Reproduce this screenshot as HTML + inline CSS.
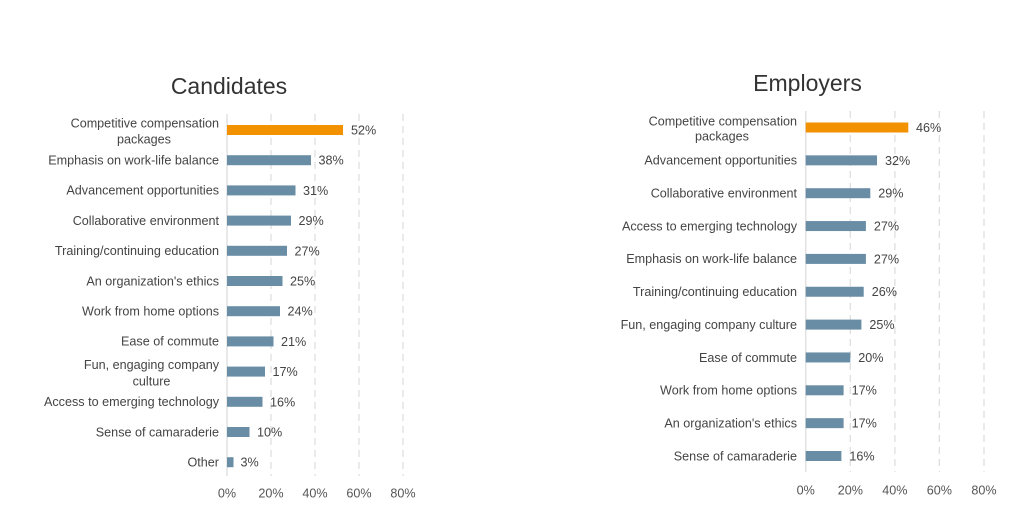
<!DOCTYPE html>
<html>
<head>
<meta charset="utf-8">
<style>
html,body{margin:0;padding:0;background:#fff;}
svg{display:block;}
text{font-family:"Liberation Sans",sans-serif;fill:#444;}
.lbl{font-size:12.6px;text-anchor:end;}
.lblc{font-size:12.6px;text-anchor:middle;}
.val{font-size:12.6px;text-anchor:start;}
.tick{font-size:12.6px;text-anchor:middle;fill:#555;}
.title{font-size:23px;text-anchor:middle;fill:#333;}
.grid{stroke:#dedede;stroke-width:1.3;stroke-dasharray:7 5;}
.axis{stroke:#e2e2e2;stroke-width:1.5;}
</style>
</head>
<body>
<svg width="1024" height="520" viewBox="0 0 1024 520" xmlns="http://www.w3.org/2000/svg">
<rect width="1024" height="520" fill="#fff"/>

<!-- LEFT CHART: Candidates -->
<text class="title" x="229" y="94">Candidates</text>
<line class="grid" x1="271" y1="114" x2="271" y2="476"/>
<line class="grid" x1="315" y1="114" x2="315" y2="476"/>
<line class="grid" x1="359" y1="114" x2="359" y2="476"/>
<line class="grid" x1="403" y1="114" x2="403" y2="476"/>
<line class="axis" x1="227" y1="114" x2="227" y2="476"/>

<rect x="227" y="125" width="116" height="10" fill="#F39200"/>
<rect x="227" y="155.2" width="84" height="10" fill="#6A8DA6"/>
<rect x="227" y="185.4" width="68.5" height="10" fill="#6A8DA6"/>
<rect x="227" y="215.6" width="64" height="10" fill="#6A8DA6"/>
<rect x="227" y="245.8" width="60" height="10" fill="#6A8DA6"/>
<rect x="227" y="276" width="55.5" height="10" fill="#6A8DA6"/>
<rect x="227" y="306.2" width="53" height="10" fill="#6A8DA6"/>
<rect x="227" y="336.4" width="46.5" height="10" fill="#6A8DA6"/>
<rect x="227" y="366.6" width="38" height="10" fill="#6A8DA6"/>
<rect x="227" y="396.8" width="35.5" height="10" fill="#6A8DA6"/>
<rect x="227" y="427" width="22.5" height="10" fill="#6A8DA6"/>
<rect x="227" y="457.2" width="6.5" height="10" fill="#6A8DA6"/>

<text class="lbl" x="219" y="127.5">Competitive compensation</text>
<text class="lblc" x="144" y="143.5">packages</text>
<text class="lbl" x="219" y="164.5">Emphasis on work-life balance</text>
<text class="lbl" x="219" y="194.7">Advancement opportunities</text>
<text class="lbl" x="219" y="224.9">Collaborative environment</text>
<text class="lbl" x="219" y="255.1">Training/continuing education</text>
<text class="lbl" x="219" y="285.3">An organization's ethics</text>
<text class="lbl" x="219" y="315.5">Work from home options</text>
<text class="lbl" x="219" y="345.7">Ease of commute</text>
<text class="lbl" x="219" y="369">Fun, engaging company</text>
<text class="lblc" x="151.5" y="385.5">culture</text>
<text class="lbl" x="219" y="406.1">Access to emerging technology</text>
<text class="lbl" x="219" y="436.3">Sense of camaraderie</text>
<text class="lbl" x="219" y="466.5">Other</text>

<text class="val" x="351" y="134.5">52%</text>
<text class="val" x="318.5" y="164.7">38%</text>
<text class="val" x="303" y="194.9">31%</text>
<text class="val" x="298.5" y="225.1">29%</text>
<text class="val" x="294.5" y="255.3">27%</text>
<text class="val" x="290" y="285.5">25%</text>
<text class="val" x="287.5" y="315.7">24%</text>
<text class="val" x="281" y="345.9">21%</text>
<text class="val" x="272.5" y="376.1">17%</text>
<text class="val" x="270" y="406.3">16%</text>
<text class="val" x="257" y="436.5">10%</text>
<text class="val" x="240.5" y="466.7">3%</text>

<text class="tick" x="227" y="497.5">0%</text>
<text class="tick" x="271" y="497.5">20%</text>
<text class="tick" x="315" y="497.5">40%</text>
<text class="tick" x="359" y="497.5">60%</text>
<text class="tick" x="403" y="497.5">80%</text>

<!-- RIGHT CHART: Employers -->
<text class="title" x="807.5" y="91">Employers</text>
<line class="grid" x1="850.3" y1="111" x2="850.3" y2="472"/>
<line class="grid" x1="894.9" y1="111" x2="894.9" y2="472"/>
<line class="grid" x1="939.4" y1="111" x2="939.4" y2="472"/>
<line class="grid" x1="984" y1="111" x2="984" y2="472"/>
<line class="axis" x1="805.7" y1="111" x2="805.7" y2="472"/>

<rect x="805.7" y="122.5" width="102.6" height="10" fill="#F39200"/>
<rect x="805.7" y="155.35" width="71.3" height="10" fill="#6A8DA6"/>
<rect x="805.7" y="188.2" width="64.6" height="10" fill="#6A8DA6"/>
<rect x="805.7" y="221.05" width="60.2" height="10" fill="#6A8DA6"/>
<rect x="805.7" y="253.9" width="60.2" height="10" fill="#6A8DA6"/>
<rect x="805.7" y="286.75" width="58" height="10" fill="#6A8DA6"/>
<rect x="805.7" y="319.6" width="55.7" height="10" fill="#6A8DA6"/>
<rect x="805.7" y="352.45" width="44.6" height="10" fill="#6A8DA6"/>
<rect x="805.7" y="385.3" width="37.9" height="10" fill="#6A8DA6"/>
<rect x="805.7" y="418.15" width="37.9" height="10" fill="#6A8DA6"/>
<rect x="805.7" y="451" width="35.7" height="10" fill="#6A8DA6"/>

<text class="lbl" x="797" y="125.5">Competitive compensation</text>
<text class="lblc" x="722" y="140.5">packages</text>
<text class="lbl" x="797" y="164.7">Advancement opportunities</text>
<text class="lbl" x="797" y="197.5">Collaborative environment</text>
<text class="lbl" x="797" y="230.4">Access to emerging technology</text>
<text class="lbl" x="797" y="263.2">Emphasis on work-life balance</text>
<text class="lbl" x="797" y="296.1">Training/continuing education</text>
<text class="lbl" x="797" y="328.9">Fun, engaging company culture</text>
<text class="lbl" x="797" y="361.8">Ease of commute</text>
<text class="lbl" x="797" y="394.6">Work from home options</text>
<text class="lbl" x="797" y="427.5">An organization's ethics</text>
<text class="lbl" x="797" y="460.3">Sense of camaraderie</text>

<text class="val" x="916" y="132">46%</text>
<text class="val" x="885" y="164.8">32%</text>
<text class="val" x="878.3" y="197.6">29%</text>
<text class="val" x="873.9" y="230.5">27%</text>
<text class="val" x="873.9" y="263.3">27%</text>
<text class="val" x="871.7" y="296.2">26%</text>
<text class="val" x="869.4" y="329">25%</text>
<text class="val" x="858.3" y="361.9">20%</text>
<text class="val" x="851.6" y="394.7">17%</text>
<text class="val" x="851.6" y="427.6">17%</text>
<text class="val" x="849.4" y="460.4">16%</text>

<text class="tick" x="805.7" y="494.5">0%</text>
<text class="tick" x="850.3" y="494.5">20%</text>
<text class="tick" x="894.9" y="494.5">40%</text>
<text class="tick" x="939.4" y="494.5">60%</text>
<text class="tick" x="984" y="494.5">80%</text>
</svg>
</body>
</html>
